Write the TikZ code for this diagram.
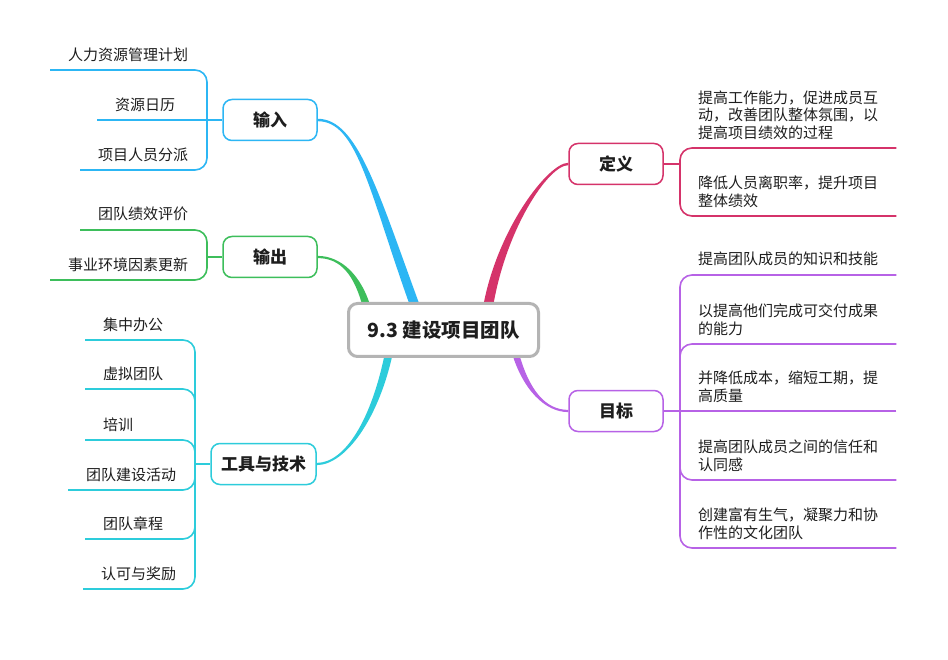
\documentclass[tikz,border=0pt]{standalone}
\usepackage{fontspec}
\setmainfont{Noto Sans CJK SC}
\usepackage{tikz}
\usetikzlibrary{positioning, calc, backgrounds}
\definecolor{inblue}{HTML}{2CB6F4}
\definecolor{outgreen}{HTML}{3DBE5B}
\definecolor{toolcyan}{HTML}{2DCCDB}
\definecolor{defred}{HTML}{D5336A}
\definecolor{goalpurple}{HTML}{B762E6}
\definecolor{rootgray}{HTML}{B4B4B4}
\definecolor{ink}{HTML}{1E1E1E}
\tikzset{
    rootbox/.style={rectangle, draw=rootgray, line width=3pt, fill=white, rounded corners=9pt, minimum width=190pt, minimum height=53pt, font=\fontsize{19.5}{22}\selectfont\bfseries, text=ink},
    mainbox/.style={rectangle, draw, line width=1.5pt, fill=white, rounded corners=9pt, minimum width=94pt, minimum height=41pt, font=\fontsize{17}{19}\selectfont\bfseries, text=ink},
    leaf/.style={inner xsep=18pt, inner ysep=8.5pt, font=\fontsize{15}{17.5}\selectfont, text=ink, anchor=south west},
    rleaf/.style={leaf, text width=182pt, align=left},
    twig/.style={line width=1.6pt, rounded corners=12pt},
}
% tapered main branch: colour, start, control near start, control near end, end, half width at start, half width at end
\newcommand{\branchfill}[7]{%
    \fill[#1] ($#2+({-1*(#6)},0)$) .. controls ($#3+({-0.9*(#6)},0)$) and ($#4+(0,{-1*(#7)})$) .. ($#5+(0,{-1*(#7)})$)
        -- ($#5+(0,#7)$) .. controls ($#4+(0,#7)$) and ($#3+({0.9*(#6)},0)$) .. ($#2+(#6,0)$) -- cycle;}

\begin{document}
\begin{tikzpicture}[x=1pt, y=-1pt]
    \useasboundingbox (0,0) rectangle (948,660);

    % === ROOT AND MAIN TOPICS ===
    \node[rootbox] (root) at (443.5,330) {9.3 建设项目团队};
    \node[mainbox, draw=inblue] (in) at (270,120) {输入};
    \node[mainbox, draw=outgreen] (out) at (270,257) {输出};
    \node[mainbox, draw=toolcyan, minimum width=105pt] (tool) at (263.5,464) {工具与技术};
    \node[mainbox, draw=defred] (def) at (616,164) {定义};
    \node[mainbox, draw=goalpurple] (goal) at (616,411) {目标};

    % === INPUTS ===
    \coordinate (inbr) at (207,120);
    \node[leaf] (inhr) at (50,70) {人力资源管理计划};
    \node[leaf] (incal) at (97,120) {资源日历};
    \node[leaf] (inass) at (80,170) {项目人员分派};
    \draw[twig, inblue] (inhr.south west) -- (inhr.south west -| inbr) -- (inass.south west -| inbr) -- (inass.south west);
    \draw[twig, inblue] (incal.south west) -- (in.west);

    % === OUTPUTS ===
    \coordinate (outbr) at (207,257);
    \node[leaf] (outeval) at (80,230) {团队绩效评价};
    \node[leaf] (outenv) at (50,280) {事业环境因素更新};
    \draw[twig, outgreen] (outeval.south west) -- (outeval.south west -| outbr) -- (outenv.south west -| outbr) -- (outenv.south west);
    \draw[twig, outgreen] (outbr) -- (out.west);

    % === TOOLS ===
    \coordinate (toolbr) at (195,464);
    \node[leaf] (tlco) at (85,340) {集中办公};
    \node[leaf] (tlvir) at (85,389) {虚拟团队};
    \node[leaf] (tltrain) at (85,440) {培训};
    \node[leaf] (tlbuild) at (68,490) {团队建设活动};
    \node[leaf] (tlrule) at (85,539) {团队章程};
    \node[leaf] (tlprize) at (83,589) {认可与奖励};
    \draw[twig, toolcyan] (tlco.south west) -- (tlco.south west -| toolbr) -- (tlprize.south west -| toolbr) -- (tlprize.south west);
    \foreach \t in {tlvir, tltrain, tlbuild, tlrule}
        \draw[twig, toolcyan] (\t.south west) -- (\t.south west -| toolbr) -- (toolbr);
    \draw[twig, toolcyan] (toolbr) -- (tool.west);

    % === DEFINITION ===
    \coordinate (defbr) at (680,164);
    \node[rleaf] (defa) at (680,148) {提高工作能力，促进成员互\\动，改善团队整体氛围，以\\提高项目绩效的过程};
    \node[rleaf] (defb) at (680,216) {降低人员离职率，提升项目\\整体绩效};
    \draw[twig, defred] ([xshift=-2pt]defa.south east) -- (defa.south west) -- (defb.south west) -- ([xshift=-2pt]defb.south east);
    \draw[twig, defred] (defbr) -- (def.east);

    % === GOALS ===
    \coordinate (goalbr) at (680,411);
    \node[rleaf] (goala) at (680,275) {提高团队成员的知识和技能};
    \node[rleaf] (goalb) at (680,344) {以提高他们完成可交付成果\\的能力};
    \node[rleaf] (goalc) at (680,411) {并降低成本，缩短工期，提\\高质量};
    \node[rleaf] (goald) at (680,480) {提高团队成员之间的信任和\\认同感};
    \node[rleaf] (goale) at (680,548) {创建富有生气，凝聚力和协\\作性的文化团队};
    \draw[twig, goalpurple] ([xshift=-2pt]goala.south east) -- (goala.south west) -- (goale.south west) -- ([xshift=-2pt]goale.south east);
    \foreach \t in {goalb, goald}
        \draw[twig, goalpurple] ([xshift=-2pt]\t.south east) -- (\t.south west) -- (goalbr);
    \draw[twig, goalpurple] ([xshift=-2pt]goalc.south east) -- (goal.east);

    % Branches behind the boxes
    \begin{scope}[on background layer]
        \fill[white] (0,0) rectangle (948,660);
        \coordinate (inS) at ($(root.north)+(-27,8)$);
        \coordinate (inA) at ($(root.north)+(-70,-110)$);
        \coordinate (inB) at ($(in.east)+(40,0)$);
        \branchfill{inblue}{(inS)}{(inA)}{(inB)}{(in.east)}{5}{-1.2}
        \coordinate (outS) at ($(root.north)+(-76,8)$);
        \coordinate (outA) at ($(root.north)+(-85,-27)$);
        \coordinate (outB) at ($(out.east)+(23,0)$);
        \branchfill{outgreen}{(outS)}{(outA)}{(outB)}{(out.east)}{4}{-1.1}
        \coordinate (toolS) at ($(root.south)+(-54,-8)$);
        \coordinate (toolA) at ($(root.south)+(-68,62)$);
        \coordinate (toolB) at ($(tool.east)+(28,0)$);
        \branchfill{toolcyan}{(toolS)}{(toolA)}{(toolB)}{(tool.east)}{4}{1.1}
        \coordinate (defS) at ($(root.north)+(44,8)$);
        \coordinate (defA) at ($(root.north)+(57,-72)$);
        \coordinate (defB) at ($(def.west)+(-20,0)$);
        \branchfill{defred}{(defS)}{(defA)}{(defB)}{(def.west)}{5}{1.2}
        \coordinate (goalS) at ($(root.south)+(71,-8)$);
        \coordinate (goalA) at ($(root.south)+(82,32)$);
        \coordinate (goalB) at ($(goal.west)+(-23,0)$);
        \branchfill{goalpurple}{(goalS)}{(goalA)}{(goalB)}{(goal.west)}{3.5}{-1.1}
    \end{scope}

\end{tikzpicture}
\end{document}
